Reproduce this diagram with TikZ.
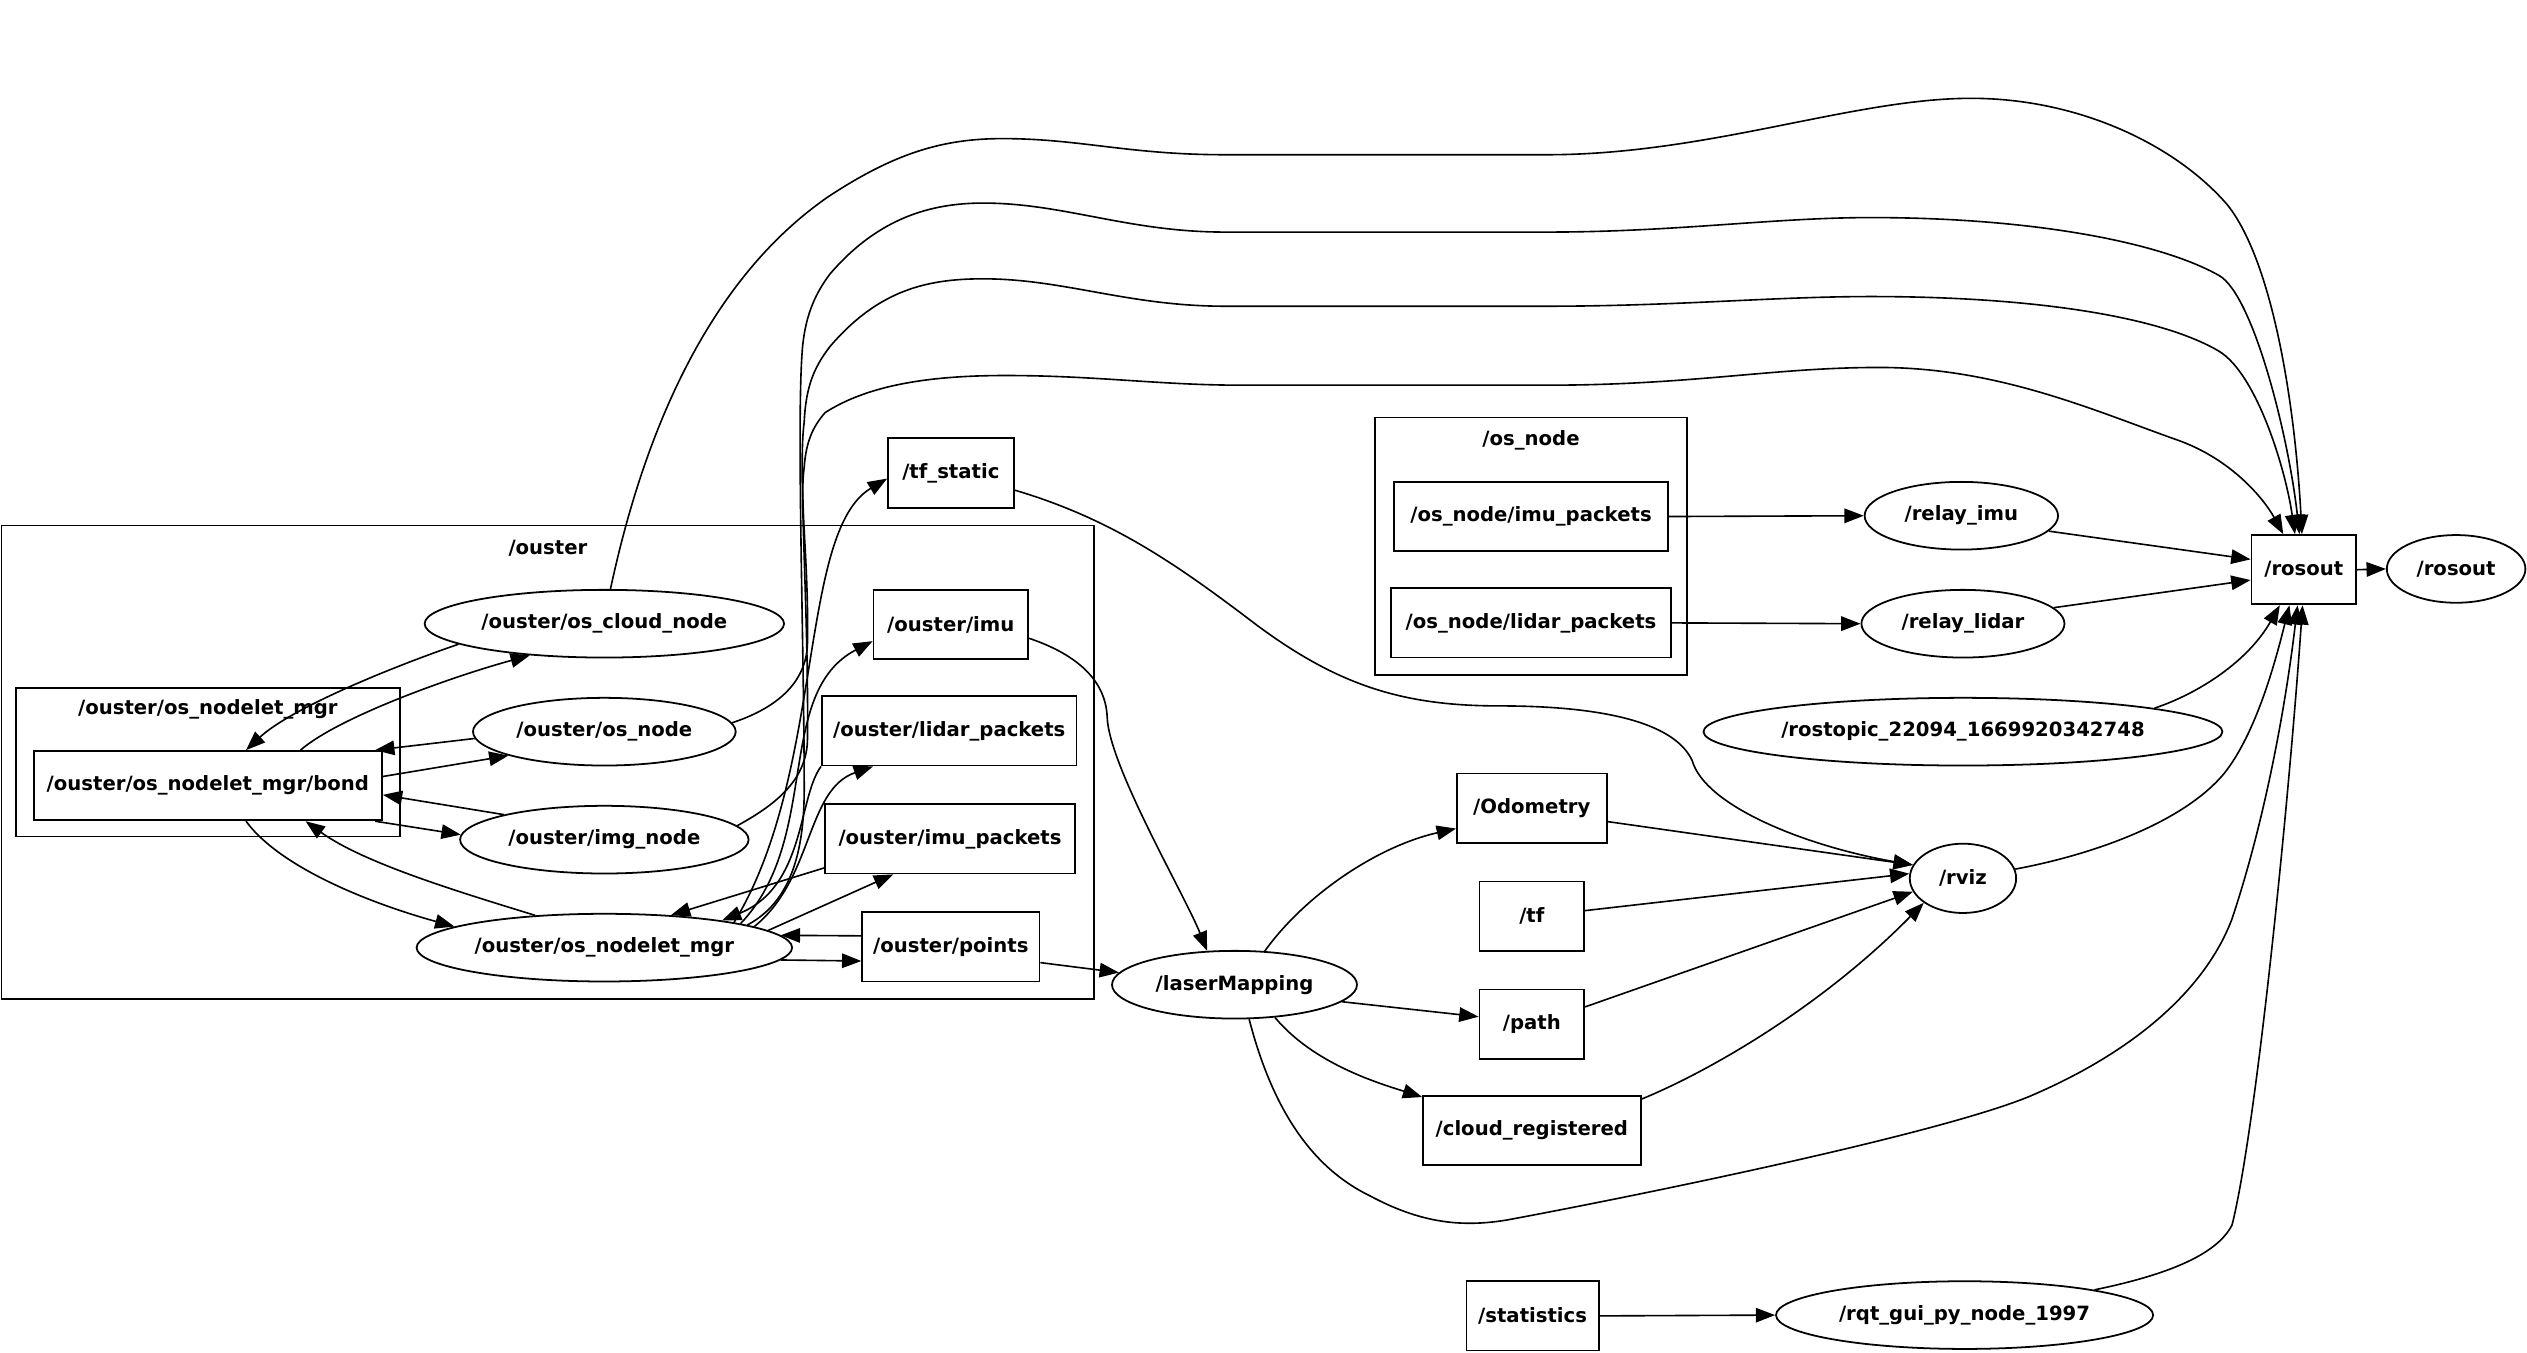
\documentclass[tikz,border=0pt]{standalone}
\usepackage{fontspec}
\setmainfont{DejaVu Sans}
\usepackage{tikz}
\usetikzlibrary{arrows.meta,shapes.geometric}

\tikzset{
  topic/.style={draw, rectangle, line width=1.1pt, minimum height=43pt, inner sep=0pt},
  rosnode/.style={draw, ellipse, line width=1.1pt, minimum height=42pt, inner sep=0pt},
  cluster/.style={draw, rectangle, line width=1.1pt, inner sep=0pt},
  title/.style={inner sep=0pt},
  link/.style={-{Triangle[length=12pt,width=9pt]}, line width=1pt},
}

\begin{document}
\begin{tikzpicture}[x=1pt, y=-1pt, font=\fontsize{12.2}{14}\selectfont\bfseries]
                \useasboundingbox (0,0) rectangle (1568,839);
                \node[cluster, minimum width=678pt, minimum height=294pt] (ouster) at (340,473) {};
                \node[title] (oustertitle) at (340,340) {/ouster};
                \node[cluster, minimum width=238pt, minimum height=92pt] (mgrgroup) at (129,473) {};
                \node[title] (mgrtitle) at (129,440) {/ouster/os\_nodelet\_mgr};
                \node[cluster, minimum width=194pt, minimum height=160pt] (osgroup) at (950,339) {};
                \node[title] (ostitle) at (950,273) {/os\_node};

                \node[rosnode, minimum width=223pt] (cloud) at (375,387) {/ouster/os\_cloud\_node};
                \node[rosnode, minimum width=163pt] (osnode) at (375,454) {/ouster/os\_node};
                \node[rosnode, minimum width=179pt] (imgnode) at (375,521) {/ouster/img\_node};
                \node[rosnode, minimum width=233pt] (mgr) at (375,588) {/ouster/os\_nodelet\_mgr};
                \node[topic, minimum width=216pt] (bond) at (129,487.5) {/ouster/os\_nodelet\_mgr/bond};
                \node[topic, minimum width=78pt] (tfstatic) at (590,293.5) {/tf\_static};
                \node[topic, minimum width=96pt] (imu) at (590,387.5) {/ouster/imu};
                \node[topic, minimum width=158pt] (lidarpk) at (589,453.5) {/ouster/lidar\_packets};
                \node[topic, minimum width=155pt] (imupk) at (589.5,520.5) {/ouster/imu\_packets};
                \node[topic, minimum width=110pt] (points) at (590,587.5) {/ouster/points};

                \node[rosnode, minimum width=152pt] (lasermap) at (766,611) {/laserMapping};
                \node[topic, minimum width=93pt] (odom) at (950.5,501.5) {/Odometry};
                \node[topic, minimum width=65pt] (tf) at (950.5,568.5) {/tf};
                \node[topic, minimum width=65pt] (path) at (950.5,635.5) {/path};
                \node[topic, minimum width=135pt] (cloudreg) at (950.5,701.5) {/cloud\_registered};
                \node[topic, minimum width=82pt] (stats) at (951,816.5) {/statistics};
                \node[rosnode, minimum width=234pt] (rqt) at (1219,816) {/rqt\_gui\_py\_node\_1997};

                \node[topic, minimum width=170pt] (osimupk) at (950,320.5) {/os\_node/imu\_packets};
                \node[topic, minimum width=174pt] (oslidarpk) at (950,386.5) {/os\_node/lidar\_packets};
                \node[rosnode, minimum width=120pt] (relayimu) at (1217,320) {/relay\_imu};
                \node[rosnode, minimum width=126pt] (relaylidar) at (1218,387) {/relay\_lidar};
                \node[rosnode, minimum width=322pt] (rostopic) at (1218,454) {/rostopic\_22094\_1669920342748};
                \node[rosnode, minimum width=66pt, minimum height=43pt] (rviz) at (1218,545) {/rviz};
                \node[topic, minimum width=65pt] (rosouttopic) at (1429.5,353.5) {/rosout};
                \node[rosnode, minimum width=86pt] (rosoutnode) at (1524,353) {/rosout};

                \draw[link] (bond.21) .. controls (210,445) and (280,420) .. (cloud.203);
                \draw[link] (cloud.188) .. controls (240,415) and (180,440) .. (bond.43);
                \draw[link] (osnode.183) -- (bond.12);
                \draw[link] (bond.3) -- (osnode.194);
                \draw[link] (imgnode.166) -- (bond.357);
                \draw[link] (bond.348) -- (imgnode.178);
                \draw[link] (bond.317) .. controls (175,540) and (235,562) .. (mgr.172);
                \draw[link] (mgr.155) .. controls (280,552) and (225,535) .. (bond.340);
                \draw[link] (imupk.193) -- (mgr.26);
                \draw[link] (lidarpk.south west) .. controls (495,495) and (500,550) .. (mgr.13);
                \draw[link] (mgr.6) -- (imupk.212);
                \draw[link] (points.173) -- (mgr.4);
                \draw[link] (mgr.356) -- (points.189);
                \draw[link] (mgr.8) .. controls (505,545) and (500,490) .. (lidarpk.205);
                \draw[link] (mgr.10) .. controls (510,520) and (480,430) .. (imu.192);
                \draw[link] (mgr.11) .. controls (512,480) and (495,330) .. (tfstatic.185);

                \draw[link] (cloud.80) .. controls (395,290) and (430,180) .. (514,122)
                  .. controls (555,95) and (585,86) .. (622,86)
                  .. controls (670,86) and (700,96) .. (760,96) -- (960,96)
                  .. controls (1060,96) and (1150,61) .. (1223,61)
                  .. controls (1290,61) and (1350,90) .. (1382,127)
                  .. controls (1410,162) and (1424,250) .. (rosouttopic.93);
                \draw[link] (mgr.9) .. controls (490,560) and (499,530) .. (499,490)
                  .. controls (499,400) and (494,260) .. (498,215)
                  .. controls (500,195) and (506,182) .. (515,170)
                  .. controls (545,135) and (578,126) .. (610,126)
                  .. controls (660,126) and (700,144) .. (760,144) -- (960,144)
                  .. controls (1040,144) and (1100,135) .. (1161,135)
                  .. controls (1260,135) and (1340,150) .. (1377,171)
                  .. controls (1398,183) and (1420,270) .. (rosouttopic.97);
                \draw[link] (imgnode.6) .. controls (480,500) and (500,485) .. (501,460)
                  .. controls (502,380) and (495,290) .. (499,262)
                  .. controls (500,240) and (505,228) .. (515,215)
                  .. controls (545,180) and (575,173) .. (610,173)
                  .. controls (660,173) and (700,190) .. (760,190) -- (960,190)
                  .. controls (1040,190) and (1100,184) .. (1161,184)
                  .. controls (1260,184) and (1340,196) .. (1377,218)
                  .. controls (1400,232) and (1418,290) .. (rosouttopic.104);
                \draw[link] (osnode.4) .. controls (480,440) and (500,425) .. (501,400)
                  .. controls (502,350) and (496,310) .. (499,290)
                  .. controls (500,275) and (504,265) .. (512,256)
                  .. controls (540,238) and (580,233) .. (624,233)
                  .. controls (680,233) and (720,239) .. (770,239) -- (960,239)
                  .. controls (1050,239) and (1100,228) .. (1166,228)
                  .. controls (1240,228) and (1300,255) .. (1351,273)
                  .. controls (1385,285) and (1405,310) .. (rosouttopic.120);

                \draw[link] (tfstatic.345) .. controls (690,322) and (730,350) .. (780,388)
                  .. controls (830,425) and (870,438) .. (930,438)
                  .. controls (1000,438) and (1040,450) .. (1050,472)
                  .. controls (1058,500) and (1120,525) .. (rviz.165);
                \draw[link] (imu.350) .. controls (665,405) and (686,420) .. (687,445)
                  .. controls (688,475) and (735,555) .. (lasermap.129);
                \draw[link] (points.350) -- (lasermap.174);
                \draw[link] (lasermap.48) .. controls (810,555) and (855,525) .. (odom.195);
                \draw[link] (lasermap.351) -- (path.172);
                \draw[link] (lasermap.321) .. controls (815,660) and (855,672) .. (cloudreg.163);
                \draw[link] (lasermap.293) .. controls (790,690) and (815,725) .. (850,742)
                  .. controls (880,758) and (905,762) .. (935,757)
                  .. controls (1000,745) and (1200,705) .. (1260,680)
                  .. controls (1330,650) and (1370,610) .. (1385,570)
                  .. controls (1405,510) and (1418,440) .. (rosouttopic.260);
                \draw[link] (odom.350) -- (rviz.165);
                \draw[link] (tf.6) -- (rviz.175);
                \draw[link] (path.18) -- (rviz.195);
                \draw[link] (cloudreg.16) .. controls (1060,665) and (1130,625) .. (rviz.212);
                \draw[link] (stats.east) -- (rqt.west);

                \draw[link] (osimupk.east) -- (relayimu.west);
                \draw[link] (oslidarpk.east) -- (relaylidar.west);
                \draw[link] (relayimu.-10) -- (rosouttopic.169);
                \draw[link] (relaylidar.10) -- (rosouttopic.191);
                \draw[link] (rostopic.7) .. controls (1365,430) and (1395,410) .. (rosouttopic.236);
                \draw[link] (rviz.10) .. controls (1300,530) and (1355,510) .. (1380,480)
                  .. controls (1400,455) and (1412,410) .. (rosouttopic.248);
                \draw[link] (rqt.11) .. controls (1340,792) and (1375,780) .. (1385,760)
                  .. controls (1400,700) and (1420,500) .. (rosouttopic.268);
                \draw[link] (rosouttopic.east) -- (rosoutnode.west);
            \end{tikzpicture}
\end{document}
